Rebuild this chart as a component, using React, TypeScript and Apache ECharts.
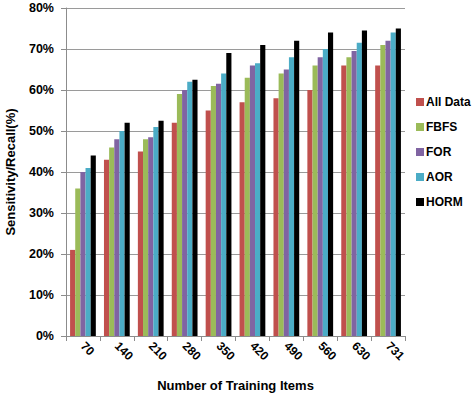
import React, { useEffect, useRef } from "react";
import * as echarts from "echarts";

const categories = ["70", "140", "210", "280", "350", "420", "490", "560", "630", "731"];
const allData = [21, 43, 45, 52, 55, 57, 58, 60, 66, 66];
const fbfs = [36, 46, 48, 59, 61, 63, 64, 66, 68, 71];
const forVals = [40, 48, 48.5, 60, 61.5, 66, 65, 68, 69.5, 72];
const aor = [41, 50, 51, 62, 64, 66.5, 68, 70, 71.5, 74];
const horm = [44, 52, 52.5, 62.5, 69, 71, 72, 74, 74.5, 75];

const seriesNames = ["All Data", "FBFS", "FOR", "AOR", "HORM"];
const seriesData = [allData, fbfs, forVals, aor, horm];
const colors = ["#C0504D", "#9BBB59", "#8064A2", "#4BACC6", "#000000"];

const FONT = "'Liberation Sans', Arial, sans-serif";

export default function App() {
  const ref = useRef<HTMLDivElement>(null);
  useEffect(() => {
    if (!ref.current) return;
    const chart = echarts.init(ref.current, null, { renderer: "svg" });
    chart.setOption({
      animation: false,
      backgroundColor: "#ffffff",
      textStyle: { fontFamily: FONT },
      color: colors,
      grid: { left: 66, right: 69, top: 8, bottom: 61, outerBoundsMode: "none" },
      legend: {
        orient: "vertical",
        left: 411,
        top: 91,
        itemWidth: 8,
        itemHeight: 8,
        itemGap: 13,
        icon: "rect",
        data: seriesNames,
        textStyle: { fontFamily: FONT, fontWeight: "bold", fontSize: 12, color: "#000", padding: [0, 0, 0, -3] },
      },
      xAxis: {
        type: "category",
        data: categories,
        name: "Number of Training Items",
        nameLocation: "middle",
        nameGap: 43,
        nameTextStyle: { fontFamily: FONT, fontWeight: "bold", fontSize: 13, color: "#000" },
        axisLine: { lineStyle: { color: "#8c8c8c", width: 1 } },
        axisTick: { show: true, length: 5, lineStyle: { color: "#8c8c8c" } },
        axisLabel: {
          rotate: -45,
          margin: 8,
          fontFamily: FONT,
          fontWeight: "bold",
          fontSize: 12,
          color: "#000",
        },
      },
      yAxis: {
        type: "value",
        min: 0,
        max: 80,
        interval: 10,
        name: "Sensitivity/Recall(%)",
        nameLocation: "middle",
        nameGap: 49,
        nameTextStyle: { fontFamily: FONT, fontWeight: "bold", fontSize: 13, color: "#000" },
        axisLine: { show: true, lineStyle: { color: "#8c8c8c", width: 1 } },
        axisTick: { show: true, length: 5, lineStyle: { color: "#8c8c8c" } },
        axisLabel: {
          formatter: "{value}%",
          margin: 12,
          fontFamily: FONT,
          fontWeight: "bold",
          fontSize: 12.5,
          color: "#000",
        },
        splitLine: { show: true, lineStyle: { color: "#9a9a9a", width: 1 } },
      },
      series: seriesNames.map((name, i) => ({
        name,
        type: "bar",
        data: seriesData[i],
        barGap: "0%",
        barCategoryGap: "24%",
        itemStyle: { color: colors[i] },
      })),
    });
    return () => chart.dispose();
  }, []);
  return (
    <div
      ref={ref}
      style={{ position: "fixed", left: 0, top: 0, width: 474, height: 397, background: "#fff" }}
    />
  );
}
